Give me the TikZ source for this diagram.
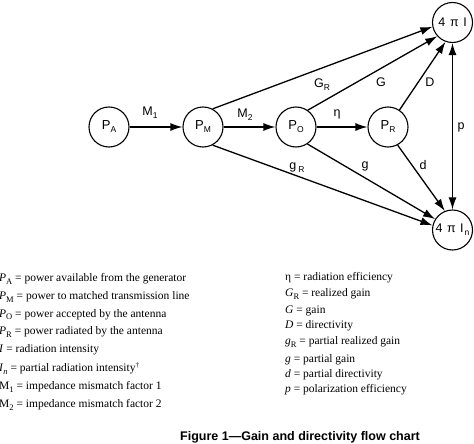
\documentclass[tikz,border=0pt]{standalone}
\usepackage{fontspec}
\setmainfont{Liberation Serif}
\setsansfont{Liberation Sans}
\usetikzlibrary{arrows.meta}
\newcommand{\dsub}[1]{\raisebox{-3pt}{\fontsize{8.5}{8.5}\selectfont #1}}
\newcommand{\lsub}[1]{\raisebox{-2.5pt}{\fontsize{8.5}{8.5}\selectfont #1}}
\begin{document}
\begin{tikzpicture}[x=1pt,y=-1pt,
 state/.style={circle,draw,line width=1.1pt,minimum size=40pt,inner sep=0pt,font=\sffamily\fontsize{13}{13}\selectfont},
 arr/.style={line width=1.3pt,-{Latex[length=12pt,width=8pt]}},
 darr/.style={line width=1.3pt,{Latex[length=12pt,width=8pt]}-{Latex[length=12pt,width=8pt]}},
 lbl/.style={font=\sffamily\fontsize{12.5}{12.5}\selectfont,inner sep=0pt},
 leg/.style={anchor=base west,inner sep=0pt,font=\fontsize{11.5}{11.5}\selectfont},
 captxt/.style={anchor=base,inner sep=0pt,font=\sffamily\bfseries\fontsize{12.5}{12.5}\selectfont},
]
\useasboundingbox (0,0) rectangle (474,444);
\node[state] (PA) at (109,127) {P\dsub{A}};
\node[state] (PM) at (203,127) {P\dsub{M}};
\node[state] (PO) at (296,127) {P\dsub{O}};
\node[state] (PR) at (388,127) {P\dsub{R}};
\node[state,font=\sffamily\fontsize{12.5}{12.5}\selectfont] (I) at (452.5,22.5) {4\hspace{1.5pt} π\hspace{1pt} I};
\node[state,font=\sffamily\fontsize{12.5}{12.5}\selectfont] (In) at (452.5,230) {4\hspace{1pt} π\hspace{1pt} I\hspace{1pt}\dsub{n}};

\draw[arr] (PA) -- (PM);
\draw[arr] (PM) -- (PO);
\draw[arr] (PO) -- (PR);
\draw[arr] (PM.62) -- (I.192);
\draw[arr] (PO.55) -- (I.222);
\draw[arr] (PR.56) -- (I.250);
\draw[arr] (PM.-62) -- (In.167);
\draw[arr] (PO.-56) -- (In.148);
\draw[arr] (PR.-62) -- (In.112);
\draw[darr] (I) -- (In);

\node[lbl] (lM1) at (150,113) {M\dsub{1}};
\node[lbl] (lM2) at (245,115) {M\dsub{2}};
\node[lbl] (leta) at (337,114) {η};
\node[lbl] (lGR) at (322,85) {G\dsub{R}};
\node[lbl] (lG) at (381,82) {G};
\node[lbl] (lD) at (430,82) {D};
\node[lbl] (lp) at (461,127) {p};
\node[lbl] (lgR) at (297,168) {g\,\dsub{R}};
\node[lbl] (lg) at (365,166) {g};
\node[lbl] (ld) at (423,165) {d};

\node[leg] (a1) at (-1,281.5) {\textit{P}\lsub{A} = power available from the generator};
\node[leg] (a2) at (-1,299.5) {\textit{P}\lsub{M} = power to matched transmission line};
\node[leg] (a3) at (-1,317) {\textit{P}\lsub{O} = power accepted by the antenna};
\node[leg] (a4) at (-1,334.5) {\textit{P}\lsub{R} = power radiated by the antenna};
\node[leg] (a5) at (-1,352.5) {\textit{I} = radiation intensity};
\node[leg] (a6) at (-1,371.5) {\textit{I}\lsub{\textit{n}} = partial radiation intensity\raisebox{4pt}{\fontsize{7}{7}\selectfont †}};
\node[leg] (a7) at (-1,389.5) {M\lsub{1} = impedance mismatch factor 1};
\node[leg] (a8) at (-1,407.5) {M\lsub{2} = impedance mismatch factor 2};

\node[leg] (b1) at (285,280.5) {η = radiation efficiency};
\node[leg] (b2) at (285,296.5) {\textit{G}\lsub{R} = realized gain};
\node[leg] (b3) at (285,313.5) {\textit{G} = gain};
\node[leg] (b4) at (285,328.5) {\textit{D} = directivity};
\node[leg] (b5) at (285,344.5) {\textit{g}\lsub{R} = partial realized gain};
\node[leg] (b6) at (285,362.5) {\textit{g} = partial gain};
\node[leg] (b7) at (285,377.5) {\textit{d} = partial directivity};
\node[leg] (b8) at (285,392.5) {\textit{p} = polarization efficiency};

\node[captxt] (caption) at (300,440.5) {Figure 1—Gain and directivity flow chart};
\end{tikzpicture}
\end{document}
